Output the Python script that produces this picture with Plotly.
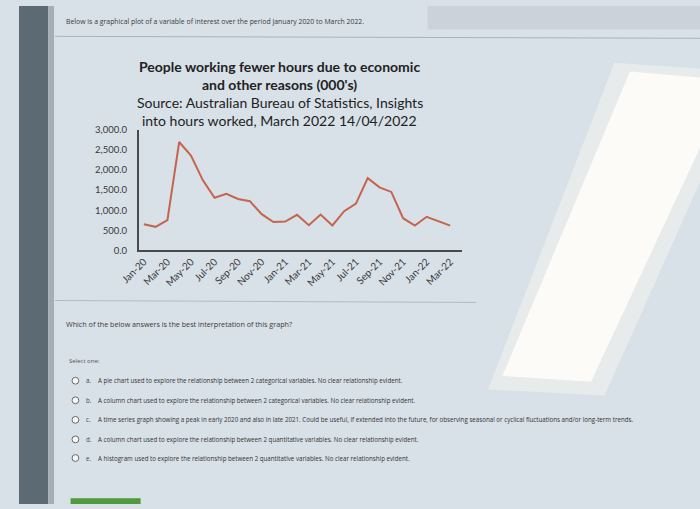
import plotly.graph_objects as go

W, H = 700, 509

months = ["Jan-20", "Feb-20", "Mar-20", "Apr-20", "May-20", "Jun-20", "Jul-20", "Aug-20",
          "Sep-20", "Oct-20", "Nov-20", "Dec-20", "Jan-21", "Feb-21", "Mar-21", "Apr-21",
          "May-21", "Jun-21", "Jul-21", "Aug-21", "Sep-21", "Oct-21", "Nov-21", "Dec-21",
          "Jan-22", "Feb-22", "Mar-22"]
people_000s = [650, 585, 750, 2700, 2360, 1750, 1310, 1410, 1280, 1225, 900, 705,
               715, 885, 625, 890, 620, 975, 1165, 1800, 1570, 1455, 800, 615,
               835, 715, 615]
tick_labels = months[::2]
y_ticks = [0, 500, 1000, 1500, 2000, 2500, 3000]

title_lines = [
    ("<b>People working fewer hours due to economic</b>", 62),
    ("<b>and other reasons (000's)</b>", 80),
    ("Source: Australian Bureau of Statistics, Insights", 99),
    ("into hours worked, March 2022 14/04/2022", 117),
]
intro_text = "Below is a graphical plot of a variable of interest over the period January 2020 to March 2022."
question_text = "Which of the below answers is the best interpretation of this graph?"
select_text = "Select one:"
option_letters = ["a.", "b.", "c.", "d.", "e."]
option_texts = [
    "A pie chart used to explore the relationship between 2 categorical variables. No clear relationship evident.",
    "A column chart used to explore the relationship between 2 categorical variables. No clear relationship evident.",
    "A time series graph showing a peak in early 2020 and also in late 2021. Could be useful, if extended into the future, for observing seasonal or cyclical fluctuations and/or long-term trends.",
    "A column chart used to explore the relationship between 2 quantitative variables. No clear relationship evident.",
    "A histogram used to explore the relationship between 2 quantitative variables. No clear relationship evident.",
]
option_y = [383, 403, 423, 443, 462]


def px(x):
    return x / W


def py(y):
    return 1 - y / H


fig = go.Figure()
fig.add_trace(go.Scatter(
    x=months, y=people_000s, mode="lines",
    line=dict(color="#c4654c", width=2),
    hoverinfo="x+y", showlegend=False,
))

annotations = []
for text, y in title_lines:
    annotations.append(dict(text=text, x=px(268), y=py(y), xref="paper", yref="paper",
                            xanchor="center", yanchor="middle", showarrow=False,
                            font=dict(family="Lato", size=14, color="#222222")))
ui_font = "Open Sans"
annotations.append(dict(text=intro_text, x=px(46), y=py(16), xref="paper", yref="paper",
                        xanchor="left", yanchor="middle", showarrow=False,
                        font=dict(family=ui_font, size=6.9, color="#3b3b3b")))
annotations.append(dict(text=question_text, x=px(46), y=py(325), xref="paper", yref="paper",
                        xanchor="left", yanchor="middle", showarrow=False,
                        font=dict(family=ui_font, size=7.2, color="#3b3b3b")))
annotations.append(dict(text=select_text, x=px(49), y=py(363), xref="paper", yref="paper",
                        xanchor="left", yanchor="middle", showarrow=False,
                        font=dict(family=ui_font, size=6, color="#555555")))
for letter, text, y in zip(option_letters, option_texts, option_y):
    annotations.append(dict(text=letter, x=px(67), y=py(y), xref="paper", yref="paper",
                            xanchor="left", yanchor="middle", showarrow=False,
                            font=dict(family=ui_font, size=6.2, color="#444444")))
    annotations.append(dict(text=text, x=px(79), y=py(y), xref="paper", yref="paper",
                            xanchor="left", yanchor="middle", showarrow=False,
                            font=dict(family=ui_font, size=6.2, color="#333333")))

shapes = [
    dict(type="rect", xref="paper", yref="paper", x0=0, x1=px(30), y0=0, y1=1,
         fillcolor="#5b6a73", line=dict(width=0), layer="below"),
    dict(type="rect", xref="paper", yref="paper", x0=px(30), x1=px(36), y0=0, y1=1,
         fillcolor="#a3aeb6", line=dict(width=0), layer="below"),
    dict(type="rect", xref="paper", yref="paper", x0=px(420), x1=1, y0=py(24), y1=1,
         fillcolor="#cbd2d9", line=dict(width=0), layer="below"),
    dict(type="line", xref="paper", yref="paper", x0=px(37), x1=1, y0=py(31), y1=py(33),
         line=dict(color="#a9b1b9", width=1)),
    dict(type="line", xref="paper", yref="paper", x0=px(37), x1=px(470), y0=py(301), y1=py(303),
         line=dict(color="#b3bbc3", width=1)),
    dict(type="rect", xref="paper", yref="paper", x0=px(53), x1=px(125), y0=0, y1=py(503),
         fillcolor="#4f9a3c", line=dict(width=0)),
    dict(type="path", xref="paper", yref="paper",
         path=f"M {px(612)} {py(58)} L {px(700)} {py(64)} L {px(700)} {py(180)} "
              f"L {px(602)} {py(398)} L {px(482)} {py(392)} Z",
         fillcolor="rgba(245,245,240,0.5)", line=dict(width=0)),
    dict(type="path", xref="paper", yref="paper",
         path=f"M {px(628)} {py(67)} L {px(700)} {py(73)} L {px(700)} {py(145)} "
              f"L {px(588)} {py(384)} L {px(497)} {py(378)} Z",
         fillcolor="rgba(253,252,247,0.93)", line=dict(width=0)),
]
for y in option_y:
    shapes.append(dict(type="circle", xref="paper", yref="paper",
                       x0=px(54.5), x1=px(61.5), y0=py(y + 3.5), y1=py(y - 3.5),
                       line=dict(color="#6a6a6a", width=1), fillcolor="#f4f6f8"))

fig.update_layout(
    width=W, height=H,
    margin=dict(l=0, r=0, t=0, b=0),
    paper_bgcolor="#d8e0e8",
    plot_bgcolor="rgba(0,0,0,0)",
    showlegend=False,
    annotations=annotations,
    shapes=shapes,
    xaxis=dict(
        domain=[px(123), px(455)],
        type="category",
        range=[-0.44, 26.97],
        tickmode="array", tickvals=tick_labels, ticktext=tick_labels,
        tickangle=-45, showgrid=False, zeroline=False,
        showline=True, linecolor="#4a4a4a", linewidth=1.5,
        ticks="", tickfont=dict(family="Lato", size=10, color="#3a3a3a"),
    ),
    yaxis=dict(
        domain=[py(249.7), py(126.7)],
        range=[0, 3000],
        tickmode="array", tickvals=y_ticks,
        tickformat=",.1f", showgrid=False, zeroline=False,
        showline=True, linecolor="#4a4a4a", linewidth=1.5,
        ticks="", ticklabelstandoff=8,
        tickfont=dict(family="Lato", size=9.5, color="#3a3a3a"),
    ),
)

fig.write_html(
    "out.html",
    config={"displayModeBar": False},
    post_script="document.body.style.margin='0';document.body.style.overflow='hidden';",
)
